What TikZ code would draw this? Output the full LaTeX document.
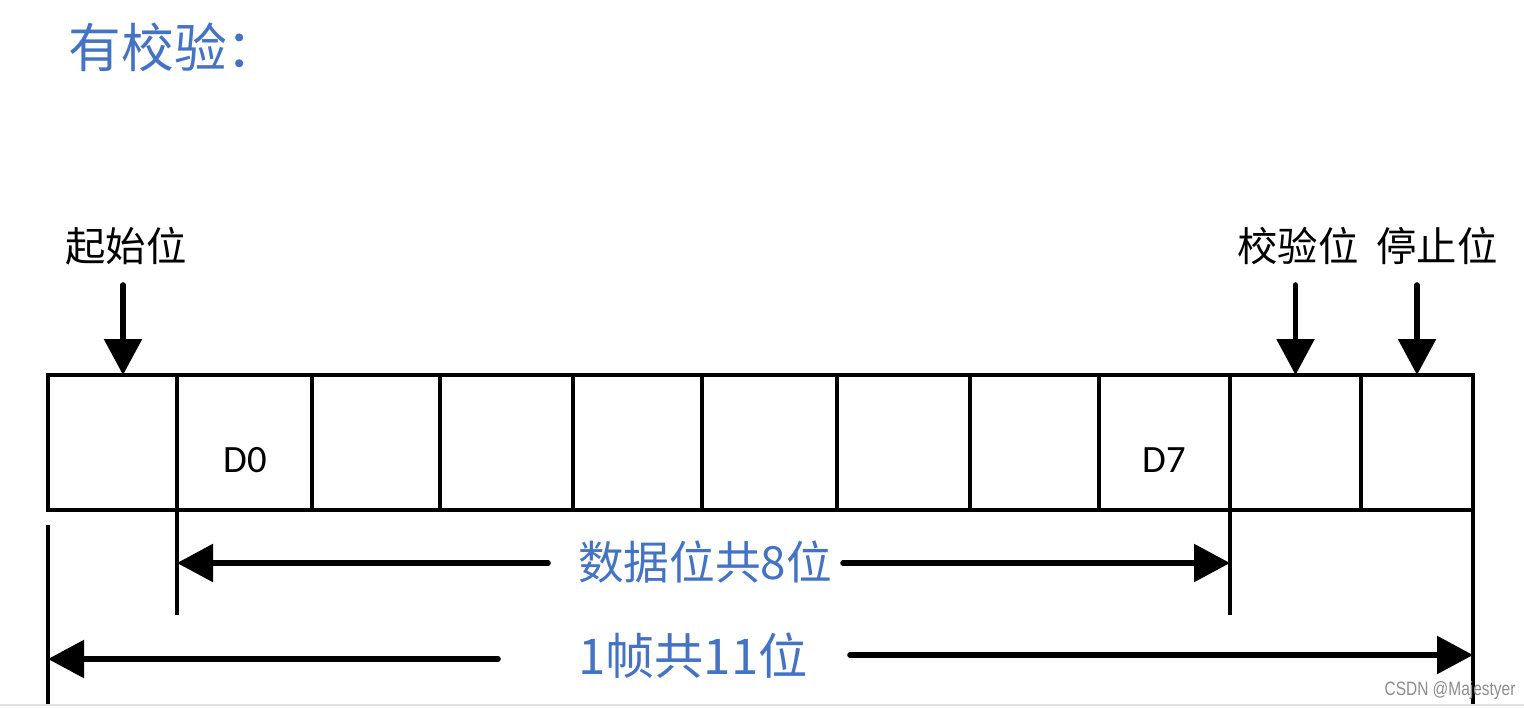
\documentclass[tikz,border=0pt]{standalone}
\usepackage{fontspec}
\setmainfont{Carlito}
\newfontfamily\cjk{Noto Sans CJK SC}
\newfontfamily\wmfont{Liberation Sans}
\usetikzlibrary{arrows.meta}
\definecolor{titleblue}{RGB}{68,114,196}
\tikzset{
  cell/.style={draw,line width=1.1pt,inner sep=0pt,outer sep=0pt,minimum height=13.5mm},
  bitlbl/.style={inner sep=0pt,font=\fontsize{11pt}{11pt}\selectfont},
  toplbl/.style={inner sep=0pt,font=\cjk\fontsize{11.5pt}{11.5pt}\selectfont},
  dimlbl/.style={inner sep=0pt,text=titleblue,font=\cjk\fontsize{13pt}{13pt}\selectfont},
  bigarr/.style={line width=1.6pt,line cap=round,-{Triangle[length=3.6mm,width=3.7mm]}},
  extline/.style={line width=1.1pt}
}
\begin{document}
\begin{tikzpicture}[x=0.1mm,y=-0.1mm]
    \useasboundingbox (0,0) rectangle (1524,707);

    %% title
    \node[dimlbl,font=\cjk\fontsize{15pt}{15pt}\selectfont] (ttl) at (174,47) {有校验：};

    %% the 11 bit cells
    \foreach \a/\b [count=\i from 0] in {48/177,177/312,312/440,440/573,573/702,
        702/837,837/970,970/1099,1099/1230,1230/1361,1361/1473}
      \node[cell,minimum width={(\b-\a)*0.1mm}] (c\i) at ({(\a+\b)/2},442.5) {};

    \node[bitlbl] (d0) at (245,460) {D0};
    \node[bitlbl] (d7) at (1164,460) {D7};

    %% labels on top
    \node[toplbl] (start) at (126,246) {起始位};
    \node[toplbl] (parity) at (1298,246) {校验位};
    \node[toplbl] (stop) at (1437,246) {停止位};

    \coordinate (s0) at (123,285);
    \draw[bigarr] (s0) -- (s0 |- c0.north);
    \draw[bigarr] ([yshift=9mm]c9.north) -- (c9.north);
    \draw[bigarr] ([yshift=9mm]c10.north) -- (c10.north);

    %% extension lines
    \coordinate (e1) at ([yshift=-10.5mm]c1.south west);
    \coordinate (e9) at ([yshift=-10.5mm]c9.south west);
    \coordinate (e0) at (48,705);
    \coordinate (e10) at ([yshift=-19.5mm]c10.south east);
    \draw[extline] (c1.south west) -- (e1);
    \draw[extline] (c9.south west) -- (e9);
    \draw[extline] (48,525) -- (e0);
    \draw[extline,line width=1.4pt] (c10.south east) -- (e10);

    %% data bits
    \node[dimlbl] (data) at (705,562) {数据位共8位};
    \coordinate (dl) at (548,563);
    \coordinate (dr) at (843,563);
    \draw[bigarr] (dl) -- (dl -| e1);
    \draw[bigarr] (dr) -- (dr -| e9);

    %% whole frame
    \node[dimlbl,font=\cjk\fontsize{14pt}{14pt}\selectfont] (frame) at (693,656) {1帧共11位};
    \coordinate (fl) at (498,659);
    \coordinate (fr) at (850,655);
    \draw[bigarr] (fl) -- (fl -| e0);
    \draw[bigarr] (fr) -- (fr -| e10);

    %% watermark
    \node[inner sep=0pt,text=black!45,xscale=0.8,font=\wmfont\fontsize{5.5pt}{5.5pt}\selectfont] (wm) at (1450,690) {CSDN @Majestyer};
    \draw[black!12,line width=0.4pt] (0,705) -- (1524,705);
  \end{tikzpicture}
\end{document}
